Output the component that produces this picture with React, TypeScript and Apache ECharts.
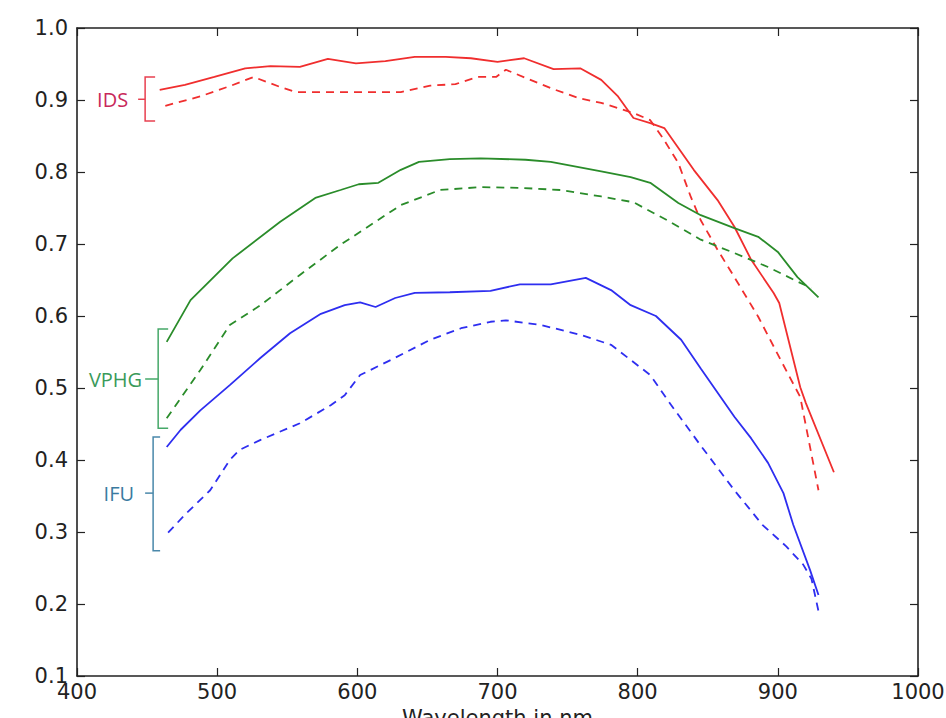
import React, { useEffect, useRef } from "react";
import * as echarts from "echarts";

const xTicks = [400, 500, 600, 700, 800, 900, 1000];
const yTicks = [0.1, 0.2, 0.3, 0.4, 0.5, 0.6, 0.7, 0.8, 0.9, 1.0];

const idsSolid = [[459,0.914],[477,0.921],[498,0.932],[520,0.944],[538,0.947],[559,0.946],[579,0.957],[599,0.951],[620,0.954],[641,0.96],[663,0.96],[681,0.958],[700,0.953],[719,0.958],[740,0.943],[759,0.944],[774,0.928],[786,0.905],[797,0.875],[809,0.868],[819,0.861],[840,0.803],[857,0.761],[869,0.724],[881,0.678],[897,0.632],[901,0.618],[916,0.501],[920,0.479],[940,0.383]];
const idsDash = [[463,0.892],[488,0.905],[510,0.92],[526,0.932],[545,0.918],[556,0.911],[580,0.911],[631,0.911],[652,0.92],[670,0.922],[686,0.932],[699,0.932],[706,0.942],[721,0.93],[740,0.915],[759,0.902],[774,0.896],[797,0.882],[809,0.872],[818,0.847],[829,0.8125],[838,0.765],[845,0.733],[857,0.692],[869,0.654],[886,0.599],[902,0.539],[916,0.4875],[929,0.358]];
const vphgSolid = [[464,0.564],[481,0.622],[511,0.68],[545,0.731],[570,0.764],[588,0.775],[601,0.783],[615,0.785],[631,0.803],[644,0.814],[666,0.818],[688,0.819],[720,0.817],[738,0.814],[774,0.801],[795,0.793],[809,0.785],[829,0.757],[845,0.74],[869,0.722],[886,0.71],[900,0.689],[914,0.654],[929,0.626]];
const vphgDash = [[464,0.458],[488,0.525],[509,0.5875],[531,0.615],[559,0.657],[588,0.699],[606,0.722],[631,0.754],[659,0.775],[688,0.779],[716,0.778],[745,0.775],[774,0.766],[797,0.758],[821,0.733],[845,0.706],[869,0.6875],[893,0.668],[916,0.646],[924,0.639]];
const ifuSolid = [[464,0.418],[474,0.442],[488,0.469],[509,0.504],[531,0.542],[552,0.576],[574,0.603],[591,0.615],[602,0.619],[613,0.6125],[627,0.625],[641,0.632],[666,0.633],[695,0.635],[716,0.644],[738,0.644],[763,0.653],[781,0.636],[795,0.615],[813,0.6],[831,0.567],[845,0.527],[869,0.46],[881,0.43],[893,0.396],[904,0.354],[911,0.31],[923,0.247],[929,0.2125]];
const ifuDash = [[465,0.299],[477,0.324],[495,0.358],[509,0.4],[516,0.414],[531,0.428],[559,0.451],[581,0.476],[591,0.49],[602,0.518],[624,0.539],[652,0.567],[674,0.583],[695,0.592],[706,0.594],[731,0.5875],[759,0.574],[781,0.56],[809,0.518],[824,0.476],[845,0.42],[869,0.358],[889,0.31],[906,0.28],[918,0.255],[924,0.235],[929,0.19]];

const bracketLabels = ["IDS", "VPHG", "IFU"];
const bracketX = [448.6, 457.9, 454.3];
const bracketTop = [0.932, 0.582, 0.432];
const bracketBottom = [0.871, 0.444, 0.274];
const bracketMid = [0.901, 0.5125, 0.354];

const RED = "#f02e2e";
const GREEN = "#2a8c2a";
const BLUE = "#2e2ef0";
const bracketColors = ["#e84050", "#45a868", "#4a88aa"];
const bracketTextColors = ["#c8285a", "#3a9a5a", "#3a7aa0"];
const serifLen = [10, 10, 7];
const midLen = [7, 13, 8];
const textGap = [10, 3, 11];

export default function App() {
  const ref = useRef<HTMLDivElement>(null);
  useEffect(() => {
    document.body.style.margin = "0";
    const chart = echarts.init(ref.current!, null, { renderer: "svg" });
    const axisLine = { show: true, lineStyle: { color: "#222", width: 1.6 } };
    const tick = { show: true, inside: true, length: 8, lineStyle: { color: "#222", width: 1.2 } };
    const font = "DejaVu Sans";
    const mk = (data: number[][], color: string, dashed: boolean) => ({
      type: "line",
      data,
      showSymbol: false,
      symbol: "none",
      lineStyle: { color, width: 1.8, type: dashed ? [8, 6] : "solid" },
      z: 3,
    });
    chart.setOption({
      animation: false,
      grid: { left: 77, right: 28, top: 28, bottom: 42, show: false, outerBoundsMode: "none", containLabel: false },
      xAxis: [
        {
          type: "value", min: xTicks[0], max: xTicks[xTicks.length - 1], interval: 100,
          axisLine, axisTick: tick, splitLine: { show: false },
          axisLabel: { color: "#222", fontSize: 21, fontFamily: font, margin: 5, formatter: (v: number) => String(v) },
          name: "Wavelength in nm", nameLocation: "middle", nameGap: 31,
          nameTextStyle: { color: "#222", fontSize: 21, fontFamily: font, verticalAlign: "top" },
        },
        {
          type: "value", position: "top", min: xTicks[0], max: xTicks[xTicks.length - 1], interval: 100,
          axisLine, axisTick: tick, splitLine: { show: false }, axisLabel: { show: false },
        },
      ],
      yAxis: [
        {
          type: "value", min: yTicks[0], max: yTicks[yTicks.length - 1], interval: 0.1,
          axisLine, axisTick: tick, splitLine: { show: false },
          axisLabel: { color: "#222", fontSize: 21, fontFamily: font, margin: 9, formatter: (v: number) => v.toFixed(1) },
        },
        {
          type: "value", position: "right", min: yTicks[0], max: yTicks[yTicks.length - 1], interval: 0.1,
          axisLine, axisTick: tick, splitLine: { show: false }, axisLabel: { show: false },
        },
      ],
      series: [
        mk(idsSolid, RED, false),
        mk(idsDash, RED, true),
        mk(vphgSolid, GREEN, false),
        mk(vphgDash, GREEN, true),
        mk(ifuSolid, BLUE, false),
        mk(ifuDash, BLUE, true),
      ],
    });
    const graphic: any[] = [];
    bracketLabels.forEach((label, i) => {
      const top = chart.convertToPixel({ xAxisIndex: 0, yAxisIndex: 0 }, [bracketX[i], bracketTop[i]]) as number[];
      const bot = chart.convertToPixel({ xAxisIndex: 0, yAxisIndex: 0 }, [bracketX[i], bracketBottom[i]]) as number[];
      const mid = chart.convertToPixel({ xAxisIndex: 0, yAxisIndex: 0 }, [bracketX[i], bracketMid[i]]) as number[];
      const x = top[0];
      graphic.push({
        type: "polyline",
        shape: { points: [[x + serifLen[i], top[1]], [x, top[1]], [x, bot[1]], [x + serifLen[i], bot[1]]] },
        style: { stroke: bracketColors[i], lineWidth: 1.5, fill: null },
        z: 5,
      });
      graphic.push({
        type: "line",
        shape: { x1: x - midLen[i], y1: mid[1], x2: x, y2: mid[1] },
        style: { stroke: bracketColors[i], lineWidth: 1.5 },
        z: 5,
      });
      graphic.push({
        type: "text",
        x: x - midLen[i] - textGap[i],
        y: mid[1],
        style: {
          text: label, fill: bracketTextColors[i], fontSize: 20, fontFamily: "Open Sans",
          align: "right", verticalAlign: "middle",
        },
        z: 5,
      });
    });
    chart.setOption({ graphic });
    return () => chart.dispose();
  }, []);
  return <div ref={ref} style={{ width: 946, height: 718 }} />;
}
